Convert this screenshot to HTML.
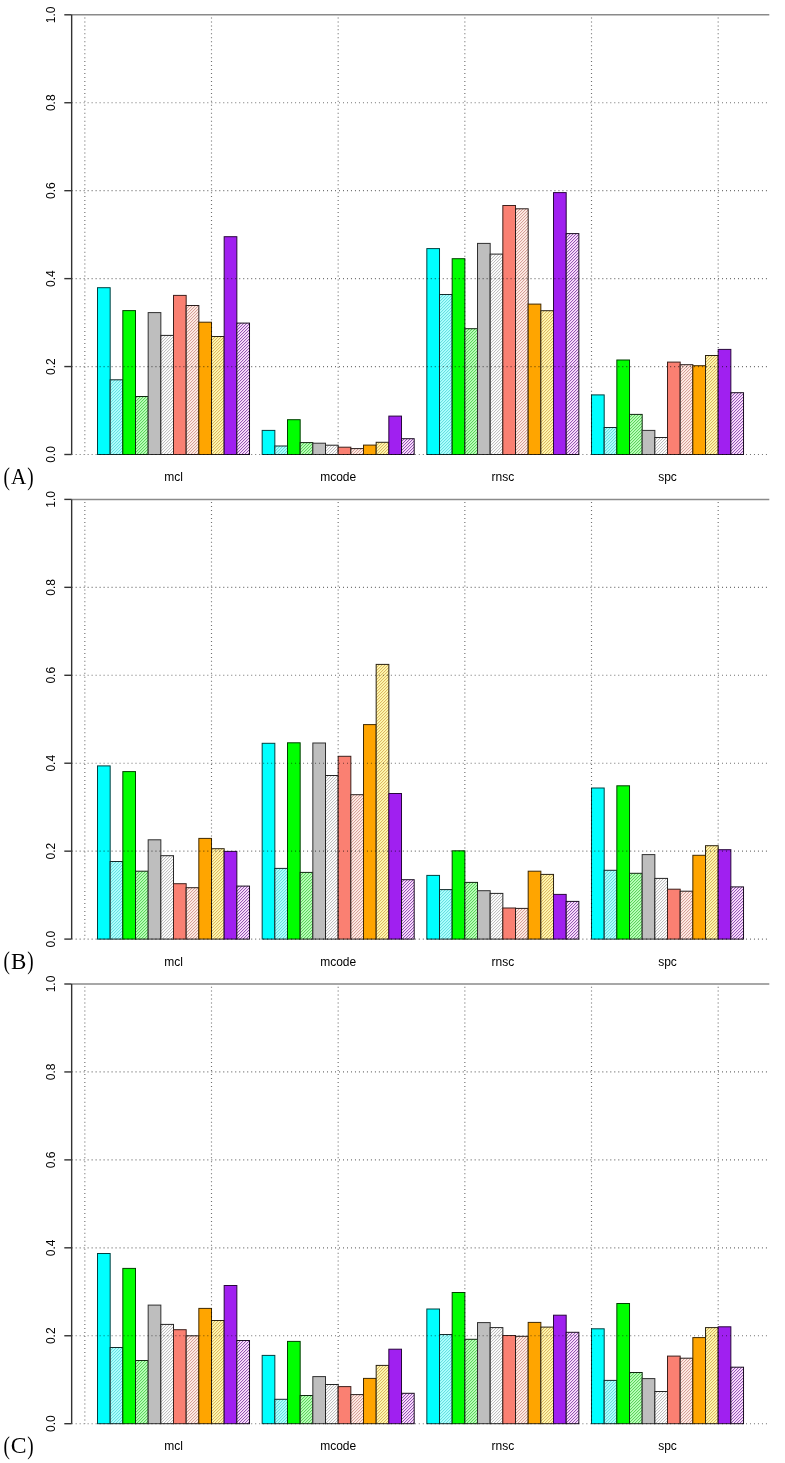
<!DOCTYPE html>
<html><head><meta charset="utf-8"><title>Barplots</title>
<style>
html,body{margin:0;padding:0;background:#fff;}
svg{display:block;}
.ax{font-family:"Liberation Sans",Arial,sans-serif;font-size:12px;fill:#000;}
.pl{font-family:"Liberation Serif","Times New Roman",serif;font-size:24px;fill:#000;}
</style></head><body>
<svg width="785" height="1463" viewBox="0 0 785 1463">
<defs>
<pattern id="h-cyan" patternUnits="userSpaceOnUse" x="0" y="0" width="3" height="3"><rect width="3" height="3" fill="#b0ffff"/><path d="M2 0h1v1h-1zM1 1h1v1h-1zM0 2h1v1h-1z" fill="#66dfdf"/><path d="M0 0h1v1h-1zM2 1h1v1h-1zM1 2h1v1h-1z" fill="#a3f9f9"/></pattern>
<pattern id="h-green" patternUnits="userSpaceOnUse" x="0" y="0" width="3" height="3"><rect width="3" height="3" fill="#bcffbc"/><path d="M2 0h1v1h-1zM1 1h1v1h-1zM0 2h1v1h-1z" fill="#5cd25c"/><path d="M0 0h1v1h-1zM2 1h1v1h-1zM1 2h1v1h-1z" fill="#abf7ab"/></pattern>
<pattern id="h-gray" patternUnits="userSpaceOnUse" x="0" y="0" width="3" height="3"><rect width="3" height="3" fill="#ffffff"/><path d="M2 0h1v1h-1zM1 1h1v1h-1zM0 2h1v1h-1z" fill="#bfbfbf"/><path d="M0 0h1v1h-1zM2 1h1v1h-1zM1 2h1v1h-1z" fill="#f4f4f4"/></pattern>
<pattern id="h-salmon" patternUnits="userSpaceOnUse" x="0" y="0" width="3" height="3"><rect width="3" height="3" fill="#ffeee7"/><path d="M2 0h1v1h-1zM1 1h1v1h-1zM0 2h1v1h-1z" fill="#d59f98"/><path d="M0 0h1v1h-1zM2 1h1v1h-1zM1 2h1v1h-1z" fill="#f8e0d9"/></pattern>
<pattern id="h-orange" patternUnits="userSpaceOnUse" x="0" y="0" width="3" height="3"><rect width="3" height="3" fill="#fffbb0"/><path d="M2 0h1v1h-1zM1 1h1v1h-1zM0 2h1v1h-1z" fill="#dcb564"/><path d="M0 0h1v1h-1zM2 1h1v1h-1zM1 2h1v1h-1z" fill="#f9efa3"/></pattern>
<pattern id="h-purple" patternUnits="userSpaceOnUse" x="0" y="0" width="3" height="3"><rect width="3" height="3" fill="#ffe2ff"/><path d="M2 0h1v1h-1zM1 1h1v1h-1zM0 2h1v1h-1z" fill="#9257b4"/><path d="M0 0h1v1h-1zM2 1h1v1h-1zM1 2h1v1h-1z" fill="#eccaf2"/></pattern>
</defs>
<rect width="785" height="1463" fill="#fff"/>
<g stroke="#000" stroke-width="1">
<rect x="97.5" y="287.7" width="12.67" height="166.8" fill="#00ffff" stroke="#004040"/>
<rect x="110.17" y="379.8" width="12.67" height="74.7" fill="url(#h-cyan)" stroke="#122b2b"/>
<rect x="122.83" y="310.6" width="12.67" height="143.9" fill="#00ff00" stroke="#004000"/>
<rect x="135.5" y="396.5" width="12.67" height="58" fill="url(#h-green)" stroke="#0f280f"/>
<rect x="148.17" y="312.6" width="12.67" height="141.9" fill="#bebebe" stroke="#303030"/>
<rect x="160.84" y="335.4" width="12.67" height="119.1" fill="url(#h-gray)" stroke="#242424"/>
<rect x="173.5" y="295.4" width="12.67" height="159.1" fill="#fa8072" stroke="#3e201c"/>
<rect x="186.17" y="305.5" width="12.67" height="149" fill="url(#h-salmon)" stroke="#291d1c"/>
<rect x="198.84" y="322.2" width="12.67" height="132.3" fill="#ffa500" stroke="#402900"/>
<rect x="211.5" y="336.5" width="12.67" height="118" fill="url(#h-orange)" stroke="#2b2211"/>
<rect x="224.17" y="236.7" width="12.67" height="217.8" fill="#a020f0" stroke="#28083c"/>
<rect x="236.84" y="323.1" width="12.67" height="131.4" fill="url(#h-purple)" stroke="#190d21"/>
<rect x="262.17" y="430.4" width="12.67" height="24.1" fill="#00ffff" stroke="#004040"/>
<rect x="274.84" y="446" width="12.67" height="8.5" fill="url(#h-cyan)" stroke="#122b2b"/>
<rect x="287.5" y="419.7" width="12.67" height="34.8" fill="#00ff00" stroke="#004000"/>
<rect x="300.17" y="442.6" width="12.67" height="11.9" fill="url(#h-green)" stroke="#0f280f"/>
<rect x="312.84" y="443.2" width="12.67" height="11.3" fill="#bebebe" stroke="#303030"/>
<rect x="325.51" y="445.2" width="12.67" height="9.3" fill="url(#h-gray)" stroke="#242424"/>
<rect x="338.17" y="447.2" width="12.67" height="7.3" fill="#fa8072" stroke="#3e201c"/>
<rect x="350.84" y="448.6" width="12.67" height="5.9" fill="url(#h-salmon)" stroke="#291d1c"/>
<rect x="363.51" y="445.1" width="12.67" height="9.4" fill="#ffa500" stroke="#402900"/>
<rect x="376.17" y="442.3" width="12.67" height="12.2" fill="url(#h-orange)" stroke="#2b2211"/>
<rect x="388.84" y="416.1" width="12.67" height="38.4" fill="#a020f0" stroke="#28083c"/>
<rect x="401.51" y="438.7" width="12.67" height="15.8" fill="url(#h-purple)" stroke="#190d21"/>
<rect x="426.84" y="248.6" width="12.67" height="205.9" fill="#00ffff" stroke="#004040"/>
<rect x="439.51" y="294.5" width="12.67" height="160" fill="url(#h-cyan)" stroke="#122b2b"/>
<rect x="452.18" y="258.7" width="12.67" height="195.8" fill="#00ff00" stroke="#004000"/>
<rect x="464.84" y="328.7" width="12.67" height="125.8" fill="url(#h-green)" stroke="#0f280f"/>
<rect x="477.51" y="243.4" width="12.67" height="211.1" fill="#bebebe" stroke="#303030"/>
<rect x="490.18" y="254.1" width="12.67" height="200.4" fill="url(#h-gray)" stroke="#242424"/>
<rect x="502.84" y="205.5" width="12.67" height="249" fill="#fa8072" stroke="#3e201c"/>
<rect x="515.51" y="208.8" width="12.67" height="245.7" fill="url(#h-salmon)" stroke="#291d1c"/>
<rect x="528.18" y="304.1" width="12.67" height="150.4" fill="#ffa500" stroke="#402900"/>
<rect x="540.85" y="310.7" width="12.67" height="143.8" fill="url(#h-orange)" stroke="#2b2211"/>
<rect x="553.51" y="192.6" width="12.67" height="261.9" fill="#a020f0" stroke="#28083c"/>
<rect x="566.18" y="233.6" width="12.67" height="220.9" fill="url(#h-purple)" stroke="#190d21"/>
<rect x="591.51" y="394.9" width="12.67" height="59.6" fill="#00ffff" stroke="#004040"/>
<rect x="604.18" y="427.5" width="12.67" height="27" fill="url(#h-cyan)" stroke="#122b2b"/>
<rect x="616.85" y="360" width="12.67" height="94.5" fill="#00ff00" stroke="#004000"/>
<rect x="629.51" y="414.4" width="12.67" height="40.1" fill="url(#h-green)" stroke="#0f280f"/>
<rect x="642.18" y="430.4" width="12.67" height="24.1" fill="#bebebe" stroke="#303030"/>
<rect x="654.85" y="437.5" width="12.67" height="17" fill="url(#h-gray)" stroke="#242424"/>
<rect x="667.51" y="362.1" width="12.67" height="92.4" fill="#fa8072" stroke="#3e201c"/>
<rect x="680.18" y="364.7" width="12.67" height="89.8" fill="url(#h-salmon)" stroke="#291d1c"/>
<rect x="692.85" y="365.7" width="12.67" height="88.8" fill="#ffa500" stroke="#402900"/>
<rect x="705.52" y="355.5" width="12.67" height="99" fill="url(#h-orange)" stroke="#2b2211"/>
<rect x="718.18" y="349.4" width="12.67" height="105.1" fill="#a020f0" stroke="#28083c"/>
<rect x="730.85" y="392.7" width="12.67" height="61.8" fill="url(#h-purple)" stroke="#190d21"/>
</g>
<g stroke="#707070" stroke-width="1.15" stroke-dasharray="1 2.99" fill="none" style="mix-blend-mode:multiply">
<line x1="84.83" y1="454.5" x2="84.83" y2="14.8" stroke-dasharray="1 2.97" stroke-dashoffset="0.65"/>
<line x1="211.5" y1="454.5" x2="211.5" y2="14.8" stroke-dasharray="1 2.97" stroke-dashoffset="0.65"/>
<line x1="338.17" y1="454.5" x2="338.17" y2="14.8" stroke-dasharray="1 2.97" stroke-dashoffset="0.65"/>
<line x1="464.84" y1="454.5" x2="464.84" y2="14.8" stroke-dasharray="1 2.97" stroke-dashoffset="0.65"/>
<line x1="591.51" y1="454.5" x2="591.51" y2="14.8" stroke-dasharray="1 2.97" stroke-dashoffset="0.65"/>
<line x1="718.18" y1="454.5" x2="718.18" y2="14.8" stroke-dasharray="1 2.97" stroke-dashoffset="0.65"/>
<line x1="71.66" y1="454.5" x2="769.3" y2="454.5"/>
<line x1="71.66" y1="366.56" x2="769.3" y2="366.56"/>
<line x1="71.66" y1="278.62" x2="769.3" y2="278.62"/>
<line x1="71.66" y1="190.68" x2="769.3" y2="190.68"/>
<line x1="71.66" y1="102.74" x2="769.3" y2="102.74"/>
</g>
<line x1="71.66" y1="14.8" x2="769.3" y2="14.8" stroke="#8a8a8a" stroke-width="1.5"/>
<g stroke="#333" stroke-width="1.4" fill="none">
<line x1="71.66" y1="14.8" x2="71.66" y2="454.5"/>
<line x1="64.3" y1="454.5" x2="71.66" y2="454.5"/>
<line x1="64.3" y1="366.56" x2="71.66" y2="366.56"/>
<line x1="64.3" y1="278.62" x2="71.66" y2="278.62"/>
<line x1="64.3" y1="190.68" x2="71.66" y2="190.68"/>
<line x1="64.3" y1="102.74" x2="71.66" y2="102.74"/>
<line x1="64.3" y1="14.8" x2="71.66" y2="14.8"/>
</g>
<text class="ax" text-anchor="middle" transform="translate(54.9,454.5) rotate(-90)">0.0</text>
<text class="ax" text-anchor="middle" transform="translate(54.9,366.56) rotate(-90)">0.2</text>
<text class="ax" text-anchor="middle" transform="translate(54.9,278.62) rotate(-90)">0.4</text>
<text class="ax" text-anchor="middle" transform="translate(54.9,190.68) rotate(-90)">0.6</text>
<text class="ax" text-anchor="middle" transform="translate(54.9,102.74) rotate(-90)">0.8</text>
<text class="ax" text-anchor="middle" transform="translate(54.9,14.8) rotate(-90)">1.0</text>
<text class="ax" text-anchor="middle" x="173.5" y="481">mcl</text>
<text class="ax" text-anchor="middle" x="338.17" y="481">mcode</text>
<text class="ax" text-anchor="middle" x="502.84" y="481">rnsc</text>
<text class="ax" text-anchor="middle" x="667.51" y="481">spc</text>
<text class="pl" style="font-size:24.5px" transform="translate(3.5,484.7) scale(0.78,1)">(</text>
<text class="pl" style="font-size:23px" transform="translate(11.1,484.1) scale(0.92,1)">A</text>
<text class="pl" style="font-size:24.5px" transform="translate(27.2,484.7) scale(0.78,1)">)</text>
<g stroke="#000" stroke-width="1">
<rect x="97.5" y="765.9" width="12.67" height="173.2" fill="#00ffff" stroke="#004040"/>
<rect x="110.17" y="861.5" width="12.67" height="77.6" fill="url(#h-cyan)" stroke="#122b2b"/>
<rect x="122.83" y="771.6" width="12.67" height="167.5" fill="#00ff00" stroke="#004000"/>
<rect x="135.5" y="871.2" width="12.67" height="67.9" fill="url(#h-green)" stroke="#0f280f"/>
<rect x="148.17" y="839.8" width="12.67" height="99.3" fill="#bebebe" stroke="#303030"/>
<rect x="160.84" y="855.7" width="12.67" height="83.4" fill="url(#h-gray)" stroke="#242424"/>
<rect x="173.5" y="883.7" width="12.67" height="55.4" fill="#fa8072" stroke="#3e201c"/>
<rect x="186.17" y="887.7" width="12.67" height="51.4" fill="url(#h-salmon)" stroke="#291d1c"/>
<rect x="198.84" y="838.4" width="12.67" height="100.7" fill="#ffa500" stroke="#402900"/>
<rect x="211.5" y="848.7" width="12.67" height="90.4" fill="url(#h-orange)" stroke="#2b2211"/>
<rect x="224.17" y="851.4" width="12.67" height="87.7" fill="#a020f0" stroke="#28083c"/>
<rect x="236.84" y="886.1" width="12.67" height="53" fill="url(#h-purple)" stroke="#190d21"/>
<rect x="262.17" y="743.3" width="12.67" height="195.8" fill="#00ffff" stroke="#004040"/>
<rect x="274.84" y="868.4" width="12.67" height="70.7" fill="url(#h-cyan)" stroke="#122b2b"/>
<rect x="287.5" y="742.8" width="12.67" height="196.3" fill="#00ff00" stroke="#004000"/>
<rect x="300.17" y="872.4" width="12.67" height="66.7" fill="url(#h-green)" stroke="#0f280f"/>
<rect x="312.84" y="743" width="12.67" height="196.1" fill="#bebebe" stroke="#303030"/>
<rect x="325.51" y="775.5" width="12.67" height="163.6" fill="url(#h-gray)" stroke="#242424"/>
<rect x="338.17" y="756.3" width="12.67" height="182.8" fill="#fa8072" stroke="#3e201c"/>
<rect x="350.84" y="794.7" width="12.67" height="144.4" fill="url(#h-salmon)" stroke="#291d1c"/>
<rect x="363.51" y="724.6" width="12.67" height="214.5" fill="#ffa500" stroke="#402900"/>
<rect x="376.17" y="664.4" width="12.67" height="274.7" fill="url(#h-orange)" stroke="#2b2211"/>
<rect x="388.84" y="793.5" width="12.67" height="145.6" fill="#a020f0" stroke="#28083c"/>
<rect x="401.51" y="879.7" width="12.67" height="59.4" fill="url(#h-purple)" stroke="#190d21"/>
<rect x="426.84" y="875.4" width="12.67" height="63.7" fill="#00ffff" stroke="#004040"/>
<rect x="439.51" y="889.6" width="12.67" height="49.5" fill="url(#h-cyan)" stroke="#122b2b"/>
<rect x="452.18" y="850.8" width="12.67" height="88.3" fill="#00ff00" stroke="#004000"/>
<rect x="464.84" y="882.4" width="12.67" height="56.7" fill="url(#h-green)" stroke="#0f280f"/>
<rect x="477.51" y="890.7" width="12.67" height="48.4" fill="#bebebe" stroke="#303030"/>
<rect x="490.18" y="893.4" width="12.67" height="45.7" fill="url(#h-gray)" stroke="#242424"/>
<rect x="502.84" y="908" width="12.67" height="31.1" fill="#fa8072" stroke="#3e201c"/>
<rect x="515.51" y="908.4" width="12.67" height="30.7" fill="url(#h-salmon)" stroke="#291d1c"/>
<rect x="528.18" y="871.2" width="12.67" height="67.9" fill="#ffa500" stroke="#402900"/>
<rect x="540.85" y="874.4" width="12.67" height="64.7" fill="url(#h-orange)" stroke="#2b2211"/>
<rect x="553.51" y="894.4" width="12.67" height="44.7" fill="#a020f0" stroke="#28083c"/>
<rect x="566.18" y="901.4" width="12.67" height="37.7" fill="url(#h-purple)" stroke="#190d21"/>
<rect x="591.51" y="788" width="12.67" height="151.1" fill="#00ffff" stroke="#004040"/>
<rect x="604.18" y="870.3" width="12.67" height="68.8" fill="url(#h-cyan)" stroke="#122b2b"/>
<rect x="616.85" y="785.8" width="12.67" height="153.3" fill="#00ff00" stroke="#004000"/>
<rect x="629.51" y="873.3" width="12.67" height="65.8" fill="url(#h-green)" stroke="#0f280f"/>
<rect x="642.18" y="854.6" width="12.67" height="84.5" fill="#bebebe" stroke="#303030"/>
<rect x="654.85" y="878.4" width="12.67" height="60.7" fill="url(#h-gray)" stroke="#242424"/>
<rect x="667.51" y="889.2" width="12.67" height="49.9" fill="#fa8072" stroke="#3e201c"/>
<rect x="680.18" y="891.2" width="12.67" height="47.9" fill="url(#h-salmon)" stroke="#291d1c"/>
<rect x="692.85" y="855.3" width="12.67" height="83.8" fill="#ffa500" stroke="#402900"/>
<rect x="705.52" y="845.7" width="12.67" height="93.4" fill="url(#h-orange)" stroke="#2b2211"/>
<rect x="718.18" y="849.7" width="12.67" height="89.4" fill="#a020f0" stroke="#28083c"/>
<rect x="730.85" y="886.9" width="12.67" height="52.2" fill="url(#h-purple)" stroke="#190d21"/>
</g>
<g stroke="#707070" stroke-width="1.15" stroke-dasharray="1 2.99" fill="none" style="mix-blend-mode:multiply">
<line x1="84.83" y1="939.1" x2="84.83" y2="499.4" stroke-dasharray="1 2.97" stroke-dashoffset="0.65"/>
<line x1="211.5" y1="939.1" x2="211.5" y2="499.4" stroke-dasharray="1 2.97" stroke-dashoffset="0.65"/>
<line x1="338.17" y1="939.1" x2="338.17" y2="499.4" stroke-dasharray="1 2.97" stroke-dashoffset="0.65"/>
<line x1="464.84" y1="939.1" x2="464.84" y2="499.4" stroke-dasharray="1 2.97" stroke-dashoffset="0.65"/>
<line x1="591.51" y1="939.1" x2="591.51" y2="499.4" stroke-dasharray="1 2.97" stroke-dashoffset="0.65"/>
<line x1="718.18" y1="939.1" x2="718.18" y2="499.4" stroke-dasharray="1 2.97" stroke-dashoffset="0.65"/>
<line x1="71.66" y1="939.1" x2="769.3" y2="939.1"/>
<line x1="71.66" y1="851.16" x2="769.3" y2="851.16"/>
<line x1="71.66" y1="763.22" x2="769.3" y2="763.22"/>
<line x1="71.66" y1="675.28" x2="769.3" y2="675.28"/>
<line x1="71.66" y1="587.34" x2="769.3" y2="587.34"/>
</g>
<line x1="71.66" y1="499.4" x2="769.3" y2="499.4" stroke="#8a8a8a" stroke-width="1.5"/>
<g stroke="#333" stroke-width="1.4" fill="none">
<line x1="71.66" y1="499.4" x2="71.66" y2="939.1"/>
<line x1="64.3" y1="939.1" x2="71.66" y2="939.1"/>
<line x1="64.3" y1="851.16" x2="71.66" y2="851.16"/>
<line x1="64.3" y1="763.22" x2="71.66" y2="763.22"/>
<line x1="64.3" y1="675.28" x2="71.66" y2="675.28"/>
<line x1="64.3" y1="587.34" x2="71.66" y2="587.34"/>
<line x1="64.3" y1="499.4" x2="71.66" y2="499.4"/>
</g>
<text class="ax" text-anchor="middle" transform="translate(54.9,939.1) rotate(-90)">0.0</text>
<text class="ax" text-anchor="middle" transform="translate(54.9,851.16) rotate(-90)">0.2</text>
<text class="ax" text-anchor="middle" transform="translate(54.9,763.22) rotate(-90)">0.4</text>
<text class="ax" text-anchor="middle" transform="translate(54.9,675.28) rotate(-90)">0.6</text>
<text class="ax" text-anchor="middle" transform="translate(54.9,587.34) rotate(-90)">0.8</text>
<text class="ax" text-anchor="middle" transform="translate(54.9,499.4) rotate(-90)">1.0</text>
<text class="ax" text-anchor="middle" x="173.5" y="965.6">mcl</text>
<text class="ax" text-anchor="middle" x="338.17" y="965.6">mcode</text>
<text class="ax" text-anchor="middle" x="502.84" y="965.6">rnsc</text>
<text class="ax" text-anchor="middle" x="667.51" y="965.6">spc</text>
<text class="pl" style="font-size:24.5px" transform="translate(3.5,969.3) scale(0.78,1)">(</text>
<text class="pl" style="font-size:23px" transform="translate(11.1,968.7) scale(1,1)">B</text>
<text class="pl" style="font-size:24.5px" transform="translate(27.2,969.3) scale(0.78,1)">)</text>
<g stroke="#000" stroke-width="1">
<rect x="97.5" y="1253.5" width="12.67" height="170.2" fill="#00ffff" stroke="#004040"/>
<rect x="110.17" y="1347.5" width="12.67" height="76.2" fill="url(#h-cyan)" stroke="#122b2b"/>
<rect x="122.83" y="1268.4" width="12.67" height="155.3" fill="#00ff00" stroke="#004000"/>
<rect x="135.5" y="1360.5" width="12.67" height="63.2" fill="url(#h-green)" stroke="#0f280f"/>
<rect x="148.17" y="1305.1" width="12.67" height="118.6" fill="#bebebe" stroke="#303030"/>
<rect x="160.84" y="1324.4" width="12.67" height="99.3" fill="url(#h-gray)" stroke="#242424"/>
<rect x="173.5" y="1329.7" width="12.67" height="94" fill="#fa8072" stroke="#3e201c"/>
<rect x="186.17" y="1335.8" width="12.67" height="87.9" fill="url(#h-salmon)" stroke="#291d1c"/>
<rect x="198.84" y="1308.4" width="12.67" height="115.3" fill="#ffa500" stroke="#402900"/>
<rect x="211.5" y="1320.5" width="12.67" height="103.2" fill="url(#h-orange)" stroke="#2b2211"/>
<rect x="224.17" y="1285.5" width="12.67" height="138.2" fill="#a020f0" stroke="#28083c"/>
<rect x="236.84" y="1340.5" width="12.67" height="83.2" fill="url(#h-purple)" stroke="#190d21"/>
<rect x="262.17" y="1355.4" width="12.67" height="68.3" fill="#00ffff" stroke="#004040"/>
<rect x="274.84" y="1399.3" width="12.67" height="24.4" fill="url(#h-cyan)" stroke="#122b2b"/>
<rect x="287.5" y="1341.4" width="12.67" height="82.3" fill="#00ff00" stroke="#004000"/>
<rect x="300.17" y="1395.5" width="12.67" height="28.2" fill="url(#h-green)" stroke="#0f280f"/>
<rect x="312.84" y="1376.6" width="12.67" height="47.1" fill="#bebebe" stroke="#303030"/>
<rect x="325.51" y="1384.5" width="12.67" height="39.2" fill="url(#h-gray)" stroke="#242424"/>
<rect x="338.17" y="1386.6" width="12.67" height="37.1" fill="#fa8072" stroke="#3e201c"/>
<rect x="350.84" y="1394.6" width="12.67" height="29.1" fill="url(#h-salmon)" stroke="#291d1c"/>
<rect x="363.51" y="1378.4" width="12.67" height="45.3" fill="#ffa500" stroke="#402900"/>
<rect x="376.17" y="1365.4" width="12.67" height="58.3" fill="url(#h-orange)" stroke="#2b2211"/>
<rect x="388.84" y="1349.2" width="12.67" height="74.5" fill="#a020f0" stroke="#28083c"/>
<rect x="401.51" y="1393.3" width="12.67" height="30.4" fill="url(#h-purple)" stroke="#190d21"/>
<rect x="426.84" y="1309" width="12.67" height="114.7" fill="#00ffff" stroke="#004040"/>
<rect x="439.51" y="1334.5" width="12.67" height="89.2" fill="url(#h-cyan)" stroke="#122b2b"/>
<rect x="452.18" y="1292.5" width="12.67" height="131.2" fill="#00ff00" stroke="#004000"/>
<rect x="464.84" y="1339.3" width="12.67" height="84.4" fill="url(#h-green)" stroke="#0f280f"/>
<rect x="477.51" y="1322.6" width="12.67" height="101.1" fill="#bebebe" stroke="#303030"/>
<rect x="490.18" y="1327.6" width="12.67" height="96.1" fill="url(#h-gray)" stroke="#242424"/>
<rect x="502.84" y="1335.5" width="12.67" height="88.2" fill="#fa8072" stroke="#3e201c"/>
<rect x="515.51" y="1336.3" width="12.67" height="87.4" fill="url(#h-salmon)" stroke="#291d1c"/>
<rect x="528.18" y="1322.4" width="12.67" height="101.3" fill="#ffa500" stroke="#402900"/>
<rect x="540.85" y="1327.1" width="12.67" height="96.6" fill="url(#h-orange)" stroke="#2b2211"/>
<rect x="553.51" y="1315.2" width="12.67" height="108.5" fill="#a020f0" stroke="#28083c"/>
<rect x="566.18" y="1332.3" width="12.67" height="91.4" fill="url(#h-purple)" stroke="#190d21"/>
<rect x="591.51" y="1328.8" width="12.67" height="94.9" fill="#00ffff" stroke="#004040"/>
<rect x="604.18" y="1380.4" width="12.67" height="43.3" fill="url(#h-cyan)" stroke="#122b2b"/>
<rect x="616.85" y="1303.5" width="12.67" height="120.2" fill="#00ff00" stroke="#004000"/>
<rect x="629.51" y="1372.5" width="12.67" height="51.2" fill="url(#h-green)" stroke="#0f280f"/>
<rect x="642.18" y="1378.6" width="12.67" height="45.1" fill="#bebebe" stroke="#303030"/>
<rect x="654.85" y="1391.5" width="12.67" height="32.2" fill="url(#h-gray)" stroke="#242424"/>
<rect x="667.51" y="1356.1" width="12.67" height="67.6" fill="#fa8072" stroke="#3e201c"/>
<rect x="680.18" y="1358.2" width="12.67" height="65.5" fill="url(#h-salmon)" stroke="#291d1c"/>
<rect x="692.85" y="1337.6" width="12.67" height="86.1" fill="#ffa500" stroke="#402900"/>
<rect x="705.52" y="1327.6" width="12.67" height="96.1" fill="url(#h-orange)" stroke="#2b2211"/>
<rect x="718.18" y="1326.8" width="12.67" height="96.9" fill="#a020f0" stroke="#28083c"/>
<rect x="730.85" y="1367.2" width="12.67" height="56.5" fill="url(#h-purple)" stroke="#190d21"/>
</g>
<g stroke="#707070" stroke-width="1.15" stroke-dasharray="1 2.99" fill="none" style="mix-blend-mode:multiply">
<line x1="84.83" y1="1423.7" x2="84.83" y2="984" stroke-dasharray="1 2.97" stroke-dashoffset="0.65"/>
<line x1="211.5" y1="1423.7" x2="211.5" y2="984" stroke-dasharray="1 2.97" stroke-dashoffset="0.65"/>
<line x1="338.17" y1="1423.7" x2="338.17" y2="984" stroke-dasharray="1 2.97" stroke-dashoffset="0.65"/>
<line x1="464.84" y1="1423.7" x2="464.84" y2="984" stroke-dasharray="1 2.97" stroke-dashoffset="0.65"/>
<line x1="591.51" y1="1423.7" x2="591.51" y2="984" stroke-dasharray="1 2.97" stroke-dashoffset="0.65"/>
<line x1="718.18" y1="1423.7" x2="718.18" y2="984" stroke-dasharray="1 2.97" stroke-dashoffset="0.65"/>
<line x1="71.66" y1="1423.7" x2="769.3" y2="1423.7"/>
<line x1="71.66" y1="1335.76" x2="769.3" y2="1335.76"/>
<line x1="71.66" y1="1247.82" x2="769.3" y2="1247.82"/>
<line x1="71.66" y1="1159.88" x2="769.3" y2="1159.88"/>
<line x1="71.66" y1="1071.94" x2="769.3" y2="1071.94"/>
</g>
<line x1="71.66" y1="984" x2="769.3" y2="984" stroke="#8a8a8a" stroke-width="1.5"/>
<g stroke="#333" stroke-width="1.4" fill="none">
<line x1="71.66" y1="984" x2="71.66" y2="1423.7"/>
<line x1="64.3" y1="1423.7" x2="71.66" y2="1423.7"/>
<line x1="64.3" y1="1335.76" x2="71.66" y2="1335.76"/>
<line x1="64.3" y1="1247.82" x2="71.66" y2="1247.82"/>
<line x1="64.3" y1="1159.88" x2="71.66" y2="1159.88"/>
<line x1="64.3" y1="1071.94" x2="71.66" y2="1071.94"/>
<line x1="64.3" y1="984" x2="71.66" y2="984"/>
</g>
<text class="ax" text-anchor="middle" transform="translate(54.9,1423.7) rotate(-90)">0.0</text>
<text class="ax" text-anchor="middle" transform="translate(54.9,1335.76) rotate(-90)">0.2</text>
<text class="ax" text-anchor="middle" transform="translate(54.9,1247.82) rotate(-90)">0.4</text>
<text class="ax" text-anchor="middle" transform="translate(54.9,1159.88) rotate(-90)">0.6</text>
<text class="ax" text-anchor="middle" transform="translate(54.9,1071.94) rotate(-90)">0.8</text>
<text class="ax" text-anchor="middle" transform="translate(54.9,984) rotate(-90)">1.0</text>
<text class="ax" text-anchor="middle" x="173.5" y="1450.2">mcl</text>
<text class="ax" text-anchor="middle" x="338.17" y="1450.2">mcode</text>
<text class="ax" text-anchor="middle" x="502.84" y="1450.2">rnsc</text>
<text class="ax" text-anchor="middle" x="667.51" y="1450.2">spc</text>
<text class="pl" style="font-size:24.5px" transform="translate(3.5,1453.9) scale(0.78,1)">(</text>
<text class="pl" style="font-size:23px" transform="translate(10.8,1453.3) scale(1.03,1)">C</text>
<text class="pl" style="font-size:24.5px" transform="translate(27.2,1453.9) scale(0.78,1)">)</text>
</svg>
</body></html>
